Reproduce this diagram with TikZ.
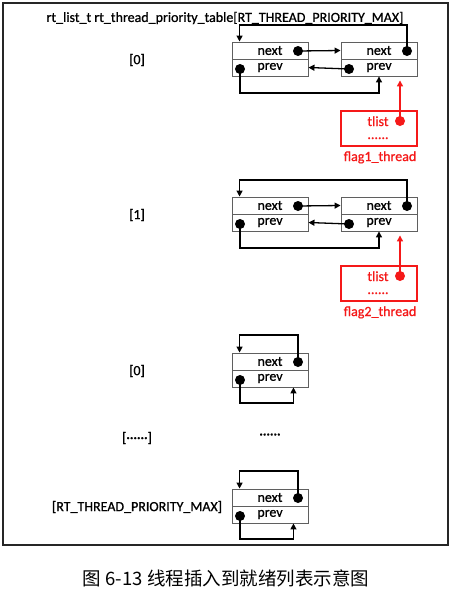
\documentclass[tikz,border=0pt]{standalone}
\usepackage{fontspec}
\setmainfont{Carlito}[FakeBold=0.8]
\newfontfamily\cjk{Noto Sans CJK SC}
\usetikzlibrary{arrows.meta}
\definecolor{xRed}{RGB}{245,25,25}
\definecolor{xBoxGray}{RGB}{95,95,95}

\tikzset{
    rowbox/.style={draw=xBoxGray, line width=0.9pt, minimum width=76pt,
        minimum height=17pt, inner sep=0pt, font=\fontsize{14}{14}\selectfont},
    dot/.style={circle, fill=black, inner sep=0pt, minimum size=10pt},
    link/.style={line width=1.3pt, -{Triangle[length=6pt,width=6pt]}},
    idxtext/.style={font=\fontsize{14}{14}\selectfont},
    redtext/.style={text=xRed, inner sep=0pt, anchor=base, font=\fontsize{14}{14}\selectfont}
}

\begin{document}
\begin{tikzpicture}[x=1pt,y=-1pt]

    % -------------------------------------------------
    % Page size and outer frame
    % -------------------------------------------------
    \useasboundingbox (0,0) rectangle (453,590);
    \fill[white] (0,0) rectangle (453,590);
    \draw[line width=1.3pt, black!85] (3,3) rectangle (448,545);

    \node[idxtext] (title) at (225,18)
        {rt\_list\_t rt\_thread\_priority\_table[RT\_THREAD\_PRIORITY\_MAX]};

    % -------------------------------------------------
    % Table entries holding two list nodes
    %
    % Node a is the list head, node b is the tlist of a thread.
    % -------------------------------------------------
    \foreach \g/\t/\idx/\flag in {0/42/{[0]}/{flag1\_thread}, 1/197/{[1]}/{flag2\_thread}}{
        \node[idxtext] (idx\g) at (137,\t+18) {\idx};

        \node[rowbox] (a\g next) at (270,\t+8.5)  {next};
        \node[rowbox] (a\g prev) at (270,\t+25.5) {prev};
        \node[rowbox] (b\g next) at (379,\t+8.5)  {next};
        \node[rowbox] (b\g prev) at (379,\t+25.5) {prev};

        \node[dot] (a\g nd) at (298,\t+9)  {};
        \node[dot] (a\g pd) at (240,\t+27) {};
        \node[dot] (b\g nd) at (407,\t+9)  {};
        \node[dot] (b\g pd) at (349,\t+27) {};

        \draw[link] (a\g nd.center) -- (b\g next.west);
        \draw[link] (b\g pd.center) -- (a\g prev.east);
        \draw[link] (b\g nd.center) -- ++(0,-26) -| ([xshift=8pt]a\g next.north west);
        \draw[link] (a\g pd.center) -- ++(0,24) -| (b\g prev.south);

        % the thread that owns node b
        \node[draw=xRed, line width=1.3pt, minimum width=76pt, minimum height=35pt,
            inner sep=0pt] (thr\g) at (379,\t+86.5) {};
        \node[redtext] (tl\g) at (378,\t+84) {tlist};
        \node[redtext] (dd\g) at (378,\t+97) {......};
        \node[dot, fill=xRed] (td\g) at (400,\t+79) {};
        \draw[link, xRed] (td\g.center) -- ([xshift=21pt,yshift=-4pt]b\g prev.south);
        \node[redtext] (flag\g) at (380,\t+119) {\flag};
    }

    % -------------------------------------------------
    % Table entries pointing to themselves (empty lists)
    % -------------------------------------------------
    \foreach \g/\t/\idx in {2/353/{[0]}, 3/489/{[RT\_THREAD\_PRIORITY\_MAX]}}{
        \node[idxtext] (idx\g) at (137,\t+18) {\idx};

        \node[rowbox] (a\g next) at (270,\t+8.5)  {next};
        \node[rowbox] (a\g prev) at (270,\t+25.5) {prev};

        \node[dot] (a\g nd) at (298,\t+9)  {};
        \node[dot] (a\g pd) at (240,\t+27) {};

        \draw[link] (a\g nd.center) -- ++(0,-27) -| ([xshift=8pt]a\g next.north west);
        \draw[link] (a\g pd.center) -- ++(0,23) -| ([xshift=-15pt]a\g prev.south east);
    }

    \node[idxtext] (idxdots) at (137,438) {[······]};
    \node[idxtext] (listdots) at (270,436) {······};

    \node[font=\cjk\fontsize{18.5}{18.5}\selectfont] (caption) at (226,578)
        {图 6-13 线程插入到就绪列表示意图};
\end{tikzpicture}
\end{document}
